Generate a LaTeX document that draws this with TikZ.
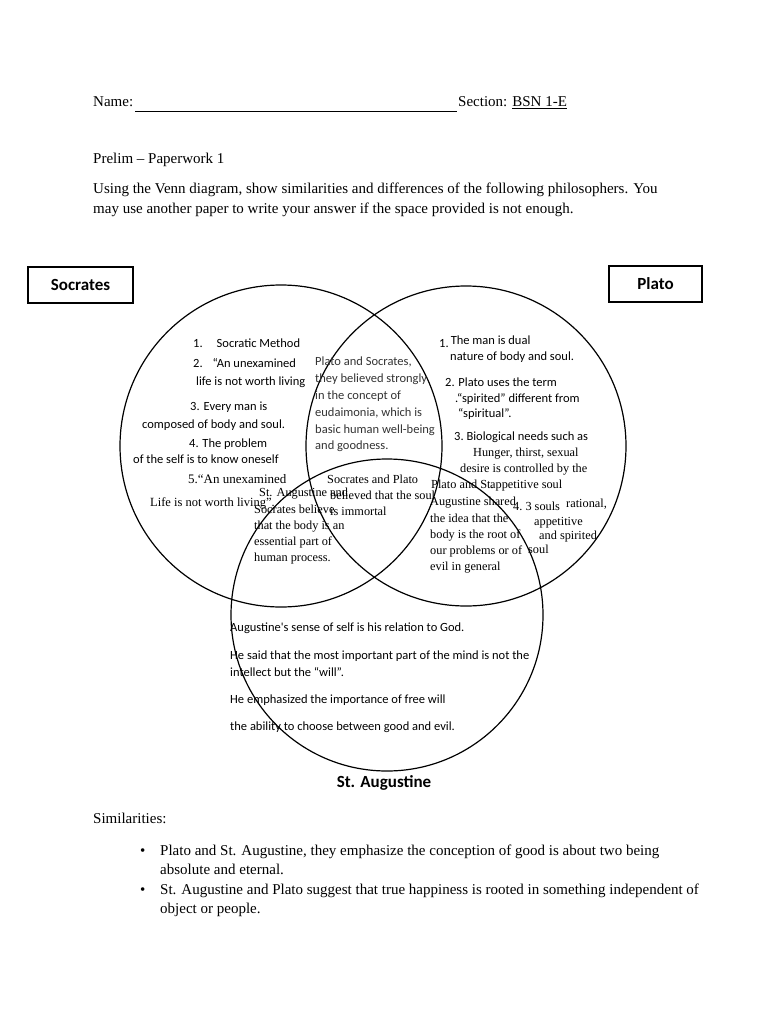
\documentclass[tikz,border=0pt]{standalone}
\usepackage{fontspec}
\setmainfont{Liberation Serif}
\newfontfamily\calfnt{Carlito}
\begin{document}
\begin{tikzpicture}[x=1pt,y=-1pt,
  body/.style={anchor=west,inner sep=0pt,font=\fontsize{15}{17}\selectfont,text height=10pt,text depth=3pt},
  sm/.style={anchor=west,inner sep=0pt,font=\calfnt\fontsize{12.5}{14}\selectfont,text height=8.5pt,text depth=2.5pt},
  smg/.style={sm,text=black!80},
  ss/.style={anchor=west,inner sep=0pt,font=\fontsize{12.3}{14}\selectfont,text height=8.5pt,text depth=2.5pt},
  lab/.style={draw,line width=1.1pt,font=\calfnt\bfseries\fontsize{17}{19}\selectfont,inner sep=0pt},
  venn/.style={circle,draw,line width=1.2pt,inner sep=0pt}]
\useasboundingbox (0,0) rectangle (768,1024);
\fill[white] (0,0) rectangle (768,1024);
% header
\node[body] (name) at (93,103) {Name:};
\coordinate (ul1) at (135,111);
\coordinate (ul2) at (457,111);
\draw[line width=0.8pt] (ul1) -- (ul2);
\node[body] (sec) at (458,103) {Section: \underline{BSN 1-E}};
\node[body] (prelim) at (93,160) {Prelim – Paperwork 1};
\node[body] (inst1) at (93,190) {Using the Venn diagram, show similarities and differences of the following philosophers. You};
\node[body] (inst2) at (93,210) {may use another paper to write your answer if the space provided is not enough.};
% labels
\node[lab,minimum width=105pt,minimum height=36pt] (socl) at (80.5,285) {Socrates};
\node[lab,minimum width=93pt,minimum height=36pt] (platl) at (655.5,284) {Plato};
% circles
\node[venn,minimum size=322pt] (csoc) at (281,446) {};
\node[venn,minimum size=320pt] (cpla) at (466,446) {};
\node[venn,minimum size=312pt] (caug) at (387,615) {};
% Socrates
\node[sm] (s1) at (193,344) {1.\hspace{14pt}Socratic Method};
\node[sm] (s2) at (193,364) {2.\hspace{10pt}“An unexamined};
\node[sm] (s2b) at (196,382) {life is not worth living};
\node[sm] (s3) at (190,407) {3.\hspace{4pt}Every man is};
\node[sm] (s3b) at (142,425) {composed of body and soul.};
\node[sm] (s4) at (189,444) {4. The problem};
\node[sm] (s4b) at (133,460) {of the self is to know oneself};
\node[body,font=\fontsize{13}{14}\selectfont] (s5) at (188,480) {5.“An unexamined};
\node[ss,font=\fontsize{12.5}{14}\selectfont] (s5b) at (150,503) {Life is not worth living”.};
% Plato & Socrates
\node[smg] (ps1) at (315,362) {Plato and Socrates,};
\node[smg] (ps2) at (315,379) {they believed strongly};
\node[smg] (ps3) at (315,396) {in the concept of};
\node[smg] (ps4) at (315,413) {eudaimonia, which is};
\node[smg] (ps5) at (315,430) {basic human well-being};
\node[smg] (ps6) at (315,446) {and goodness.};
% Plato
\node[sm] (p1) at (439,344) {1.\,{\raisebox{3pt}{The man is dual}}};
\node[sm] (p1b) at (450,357) {nature of body and soul.};
\node[sm] (p2) at (445,383) {2. Plato uses the term};
\node[sm] (p2b) at (455,399) {.“spirited” different from};
\node[sm] (p2c) at (458,414) {“spiritual”.};
\node[sm] (p3) at (454,437) {3.\ Biological needs such as};
\node[ss] (p3b) at (473,453) {Hunger, thirst, sexual};
\node[ss] (p3c) at (460,469) {desire is controlled by the};
\node[ss] (p3d) at (490,485) {appetitive soul};
\node[ss] (p4) at (513,507) {4.\ 3 souls};
\node[ss] (p4b) at (566,504) {rational,};
\node[ss] (p4c) at (534,522) {appetitive};
\node[ss] (p4d) at (539,536) {and spirited};
\node[ss] (p4e) at (528,550) {soul};
% Plato & Augustine
\node[ss] (pa1) at (431,485) {Plato and St.};
\node[ss] (pa2) at (430,502) {Augustine shared};
\node[ss] (pa3) at (430,519) {the idea that the};
\node[ss] (pa4) at (430,535) {body is the root of};
\node[ss] (pa5) at (430,551) {our problems or of};
\node[ss] (pa6) at (430,567) {evil in general};
% Socrates & Plato (centre)
\node[ss] (c1) at (327,480) {Socrates and Plato};
\node[ss] (c2) at (330,496) {believed that the soul};
\node[ss] (c3) at (330,512) {is immortal};
% Socrates & Augustine
\node[ss] (sa1) at (259,493) {St. Augustine and};
\node[ss] (sa2) at (254,510) {Socrates believe};
\node[ss] (sa3) at (254,526) {that the body is an};
\node[ss] (sa4) at (254,542) {essential part of};
\node[ss] (sa5) at (254,558) {human process.};
% Augustine
\node[sm] (a1) at (230,628) {Augustine's sense of self is his relation to God.};
\node[sm] (a2) at (230,656) {He said that the most important part of the mind is not the};
\node[sm] (a3) at (230,673) {intellect but the “will”.};
\node[sm] (a4) at (230,700) {He emphasized the importance of free will};
\node[sm] (a5) at (230,727) {the ability to choose between good and evil.};
\node[inner sep=0pt,font=\calfnt\bfseries\fontsize{17}{19}\selectfont] (augl) at (384,783) {St. Augustine};
% Similarities
\node[body] (sim) at (93,820) {Similarities:};
\node[body] (b1) at (140,852) {\textbullet};
\node[body] (sim1) at (160,852) {Plato and St. Augustine, they emphasize the conception of good is about two being};
\node[body] (sim1b) at (160,871) {absolute and eternal.};
\node[body] (b2) at (140,891) {\textbullet};
\node[body] (sim2) at (160,891) {St. Augustine and Plato suggest that true happiness is rooted in something independent of};
\node[body] (sim2b) at (160,910) {object or people.};
\end{tikzpicture}
\end{document}
